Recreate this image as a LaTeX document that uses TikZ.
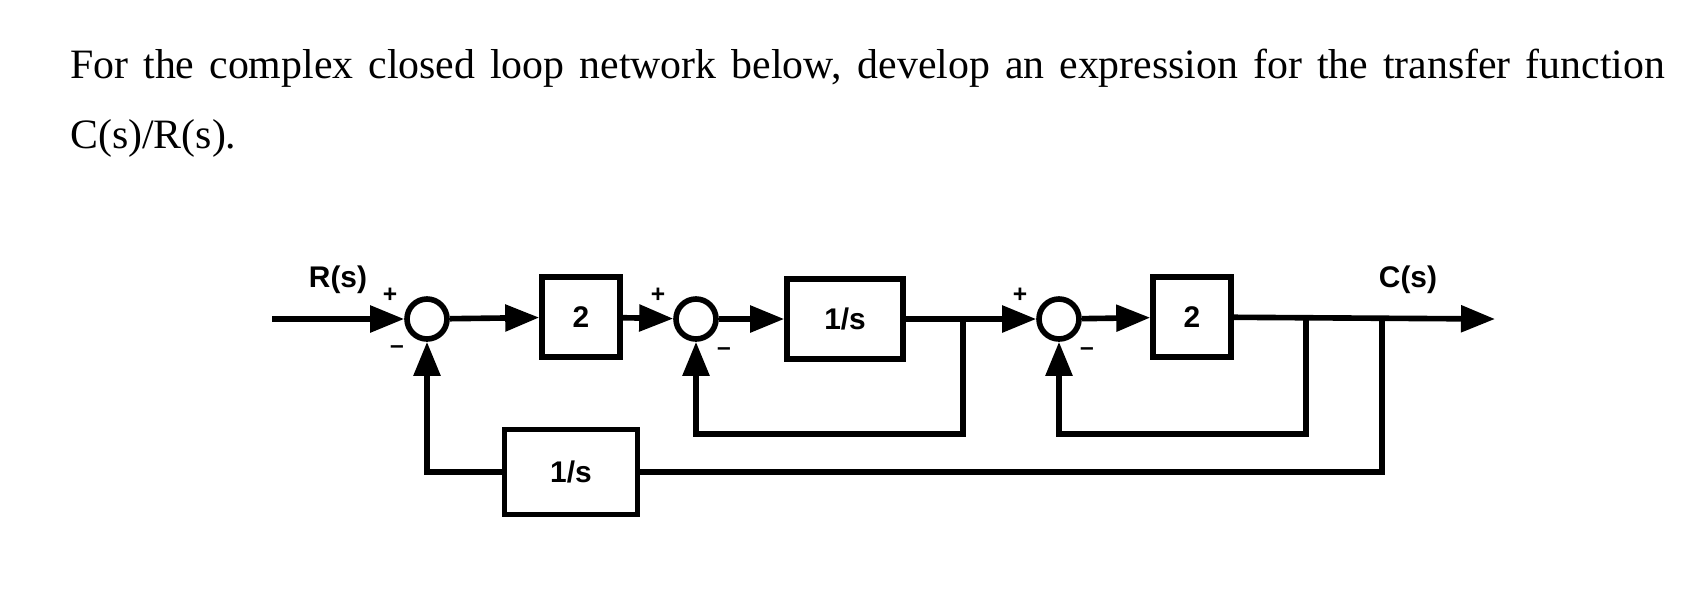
\documentclass[tikz,border=0pt]{standalone}
\usepackage{fontspec}
\setmainfont{Liberation Serif}
\newfontfamily\blkfont{Liberation Sans}
\usetikzlibrary{arrows.meta}

\tikzset{
  blk/.style={draw, line width=3.2pt, minimum height=80*0.02cm, font=\blkfont\bfseries\fontsize{17}{20}\selectfont},
  sumj/.style={draw, circle, line width=3.2pt, minimum size=40*0.02cm, inner sep=0pt},
  sig/.style={line width=3.2pt, -{Triangle[length=34*0.02cm, width=26*0.02cm]}},
  wire/.style={line width=3.2pt},
  sgn/.style={font=\blkfont\bfseries\fontsize{14}{15}\selectfont, inner sep=0pt}
}

\begin{document}
\begin{tikzpicture}[x=0.02cm, y=-0.02cm]
	\useasboundingbox (0,0) rectangle (1700,596);

	\node[anchor=base west, text width=31.9cm, align=justify, inner sep=0pt,
	      font=\fontsize{23.8}{40}\selectfont] (question) at (70,78)
	  {For the complex closed loop network below, develop an expression for the transfer function\linebreak C(s)/R(s).};

	\coordinate (in) at (272,319);
	\node[sumj] (s1) at (427,319) {};
	\node[blk, minimum width=78*0.02cm] (g1) at (581,317) {2};
	\node[sumj] (s2) at (696,319) {};
	\node[blk, minimum width=116*0.02cm] (g2) at (845,319) {1/s};
	\node[sumj] (s3) at (1059,319) {};
	\node[blk, minimum width=78*0.02cm] (g3) at (1192,317) {2};
	\coordinate (out) at (1495,319);
	\node[blk, minimum width=133*0.02cm, minimum height=85*0.02cm] (h1) at (571,472) {1/s};

	\coordinate (b1) at (963,319);
	\coordinate (b2) at (1306,319);
	\coordinate (b3) at (1382,319);

	% forward path
	\draw[sig] (in) -- (s1);
	\draw[sig] (s1) -- (g1);
	\draw[sig] (g1) -- (s2);
	\draw[sig] (s2) -- (g2);
	\draw[wire] (g2.east) -- (b1);
	\draw[sig] (b1) -- (s3);
	\draw[sig] (s3) -- (g3);
	\draw[sig] (g3) -- (out);

	% feedback loops
	\draw[sig] (b1) |- (696,434) -- (s2);
	\draw[sig] (b2) |- (1059,434) -- (s3);
	\draw[wire] (b3) |- (h1.east);
	\draw[sig] (h1.west) -| (s1);

	% labels
	\node[font=\blkfont\bfseries\fontsize{17}{20}\selectfont] (rs) at (338,280) {R(s)};
	\node[font=\blkfont\bfseries\fontsize{17}{20}\selectfont] (cs) at (1408,280) {C(s)};
	\foreach \nm/\px/\py/\tx in {p1/390/295/+, m1/397/350/\textendash, p2/658/295/+, m2/724/352/\textendash, p3/1020/295/+, m3/1087/352/\textendash}
	{
		\node[sgn] (\nm) at (\px,\py) {\tx};
	}
\end{tikzpicture}
\end{document}
